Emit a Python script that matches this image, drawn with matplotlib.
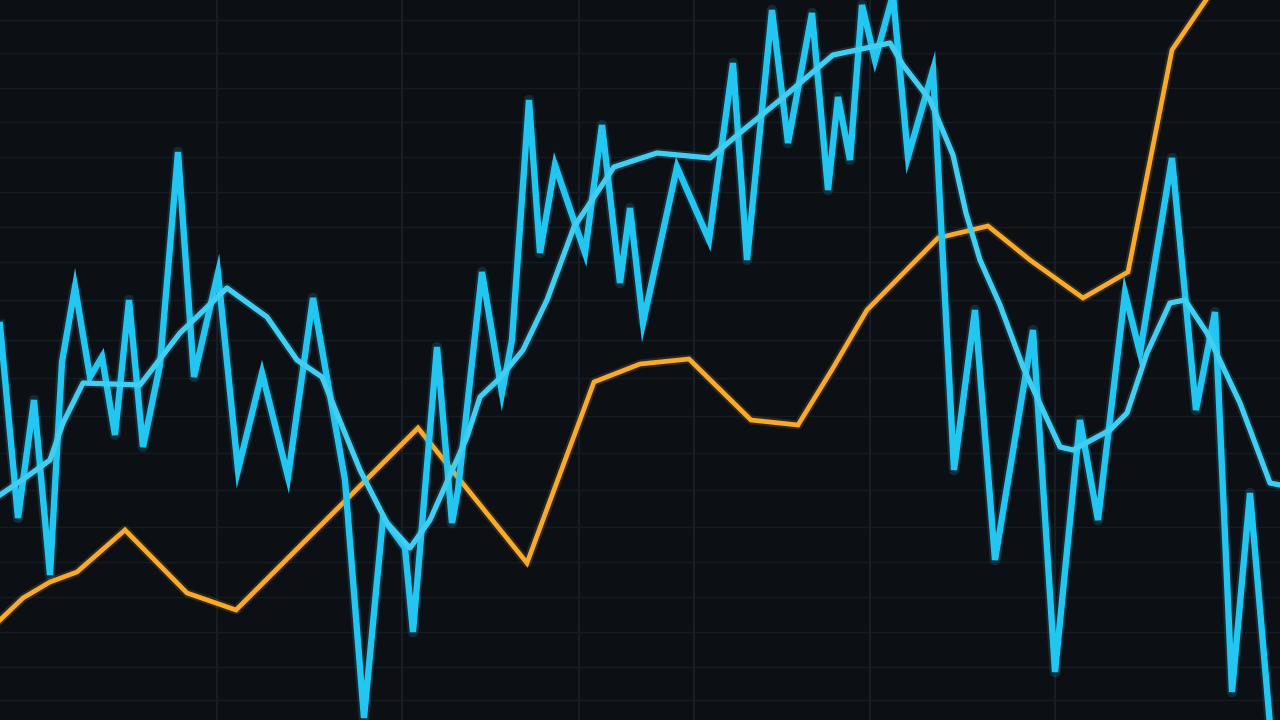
import matplotlib.pyplot as plt
import matplotlib.patheffects as pe

# time axis (arbitrary units) and values for the jagged price line
price_t = [0, 18, 34, 50, 62, 75, 90, 102, 115, 129, 143, 160, 178, 194, 218, 238,
           262, 288, 313, 330, 345, 364, 383, 405, 413, 437, 452, 458, 482, 502,
           512, 529, 540, 555, 585, 602, 620, 630, 643, 677, 709, 733, 747, 772,
           788, 812, 828, 838, 850, 862, 875, 893, 908, 933, 954, 975, 995, 1033,
           1055, 1080, 1098, 1125, 1140, 1172, 1196, 1215, 1232, 1250, 1270, 1285]
price_v = [395, 202, 320, 145, 358, 433, 343, 363, 285, 420, 273, 355, 568, 343,
           447, 250, 347, 243, 422, 325, 240, 2, 202, 172, 88, 373, 197, 230, 448,
           327, 380, 620, 467, 555, 467, 595, 437, 512, 397, 553, 480, 657, 460,
           710, 577, 707, 530, 623, 560, 715, 660, 725, 563, 650, 250, 410, 160,
           390, 48, 300, 200, 427, 367, 562, 310, 408, 28, 227, -5, -40]

# moving average line
avg_t = [0, 25, 50, 63, 83, 140, 180, 227, 267, 297, 322, 360, 387, 410, 430,
         467, 480, 500, 523, 547, 574, 614, 657, 710, 747, 780, 833, 890, 903,
         930, 953, 966, 980, 1000, 1023, 1060, 1073, 1110, 1127, 1147, 1170,
         1185, 1207, 1240, 1270, 1280]
avg_v = [225, 242, 260, 297, 337, 335, 387, 432, 403, 360, 343, 250, 197, 172,
         200, 283, 323, 342, 370, 420, 493, 553, 567, 562, 593, 620, 665, 677,
         655, 620, 565, 507, 460, 415, 353, 273, 270, 290, 307, 367, 417, 420,
         387, 317, 237, 235]

# orange comparison line
cmp_t = [0, 23, 50, 77, 125, 187, 236, 418, 527, 594, 640, 689, 751, 798, 833,
         867, 938, 988, 1030, 1083, 1128, 1172, 1206, 1240]
cmp_v = [100, 122, 138, 148, 190, 127, 110, 292, 157, 338, 356, 361, 300, 295,
         352, 410, 482, 494, 460, 422, 448, 670, 720, 775]

grid_x = [217, 402, 579, 694, 870, 1055]
grid_y = [20, 53, 88, 122, 157, 192, 227, 262, 300, 340, 378, 416, 453, 490,
          527, 562, 597, 632, 667, 700]

bg = "#0c1015"
fig = plt.figure(figsize=(12.8, 7.2), dpi=100, facecolor=bg)
ax = fig.add_axes([0, 0, 1, 1])
ax.set_facecolor(bg)

for gx in grid_x:
    ax.axvline(gx, color="#1a2129", lw=1.2, zorder=0)
for gy in grid_y:
    ax.axhline(720 - gy, color="#151b22", lw=1.0, zorder=0)


def glow(color, width):
    return [pe.Stroke(linewidth=width + 3, foreground=color, alpha=0.15,
                      joinstyle="round"), pe.Normal()]


ax.plot(cmp_t, cmp_v, color="#f8aa2c", lw=3.4, solid_joinstyle="miter",
        path_effects=glow("#f8aa2c", 3.4), zorder=2)
ax.plot(price_t, price_v, color="#22c6f0", lw=4.6, solid_joinstyle="miter",
        path_effects=glow("#22c6f0", 4.6), zorder=3)
ax.plot(avg_t, avg_v, color="#40cff2", lw=3.8, solid_joinstyle="round",
        path_effects=glow("#40cff2", 3.8), zorder=4)

ax.set_xlim(0, 1280)
ax.set_ylim(0, 720)
ax.axis("off")

fig.savefig("out.png", dpi=100, facecolor=bg)
